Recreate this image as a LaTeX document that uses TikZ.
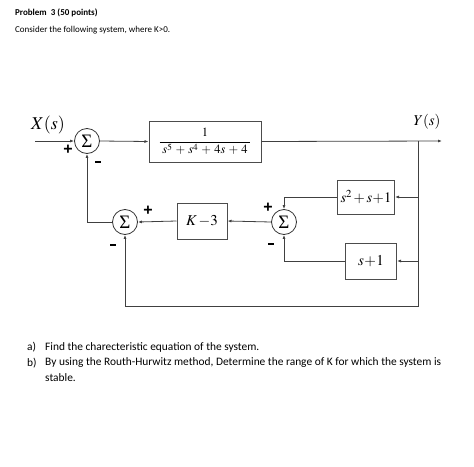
\documentclass[tikz,border=0pt]{standalone}
\usepackage{mathptmx}
\usepackage{fontspec}
\setmainfont{Carlito}
\newfontfamily\sgnfont{Liberation Sans}
\newfontfamily\dfont{Liberation Serif}
\usetikzlibrary{arrows.meta}
\begin{document}
\begin{tikzpicture}[x=1pt,y=-1pt,
  ln/.style={draw=black!75,line width=0.8pt},
  arr/.style={ln,-{Latex[length=4pt,width=3pt]}},
  blk/.style={draw=black!70,line width=1pt,inner sep=0pt},
  sumc/.style={circle,draw=black!80,line width=0.8pt,minimum size=25pt,inner sep=0pt,font=\dfont\fontsize{19}{19}\selectfont},
  sgn/.style={inner sep=0pt,font=\sgnfont\bfseries\fontsize{16}{16}\selectfont},
  mbar/.style={fill=black,minimum width=6pt,minimum height=2.6pt,inner sep=0pt},
  mlab/.style={inner sep=0pt,font=\fontsize{15}{15}\selectfont},
  qtxt/.style={anchor=west,inner sep=0pt,font=\fontsize{11.4}{13}\selectfont}]
\useasboundingbox (0,0) rectangle (474,466);
\fill[white] (0,0) rectangle (474,466);
% header
\node[anchor=west,inner sep=0pt,font=\bfseries\fontsize{9}{10}\selectfont] (title) at (15,13) {Problem\ \ 3 (50 points)};
\node[anchor=west,inner sep=0pt,font=\fontsize{9}{10}\selectfont] (cons) at (15,30) {Consider the following system, where K>0.};
% blocks
\node[sumc] (s1) at (87,141) {Σ};
\node[blk,minimum width=112pt,minimum height=41pt,font=\fontsize{12.5}{12.5}\selectfont] (b1) at (205,141.5) {$\displaystyle\frac{1}{\;s^5\,+\,s^4\,+\,4s\,+\,4\;}$};
\node[blk,minimum width=57pt,minimum height=34pt,font=\fontsize{14.5}{14.5}\selectfont] (b2) at (366,197) {$s^2\,{+}\,s\!+\!1$};
\node[sumc] (s3) at (284,222) {Σ};
\node[blk,minimum width=50pt,minimum height=36pt,mlab] (b3) at (202,221) {$K\,{-}3$};
\node[sumc] (s2) at (125,222) {Σ};
\node[blk,minimum width=51pt,minimum height=36pt,mlab] (b4) at (371,261) {$s\!+\!1$};
% labels
\node[inner sep=0pt,font=\fontsize{18}{18}\selectfont] (xl) at (48,125) {$X(s)$};
\node[mlab] (yl) at (427,122) {$Y(s)$};
% coordinates
\coordinate (in) at (35,141);
\coordinate (j1) at (418,141);
\coordinate (out) at (442,141);
\coordinate (j2) at (418,197);
\coordinate (j3) at (418,261);
\coordinate (bot) at (418,306);
% connectors
\draw[arr] (in) -- (s1.west);
\draw[arr] (s1.east) -- (b1.west);
\draw[arr] (b1.east) -- (out);
\draw[arr] (j1) -- (bot) -| (s2.south);
\draw[arr] (j2) -- (b2.east);
\draw[arr] (b2.west) -| (s3.north);
\draw[arr] (s3.west) -- (b3.east);
\draw[arr] (b3.west) -- (s2.east);
\draw[arr] (s2.west) -| (s1.south);
\draw[arr] (j3) -- (b4.east);
\draw[arr] (b4.west) -| (s3.south);
% signs
\node[sgn] (p1) at (68,150) {+};
\node[mbar] (m1) at (98,162) {};
\node[sgn] (p2) at (148,211) {+};
\node[mbar] (m2) at (113,245) {};
\node[sgn] (p3) at (268,208) {+};
\node[mbar] (m3) at (271,244) {};
% questions
\node[qtxt] (qa) at (27,347) {a)};
\node[qtxt] (ta) at (45,347) {Find the charecteristic equation of the system.};
\node[qtxt] (qb) at (27,363) {b)};
\node[qtxt] (tb) at (45,363) {By using the Routh-Hurwitz method, Determine the range of K for which the system is};
\node[qtxt] (tc) at (45,378) {stable.};
\end{tikzpicture}
\end{document}
